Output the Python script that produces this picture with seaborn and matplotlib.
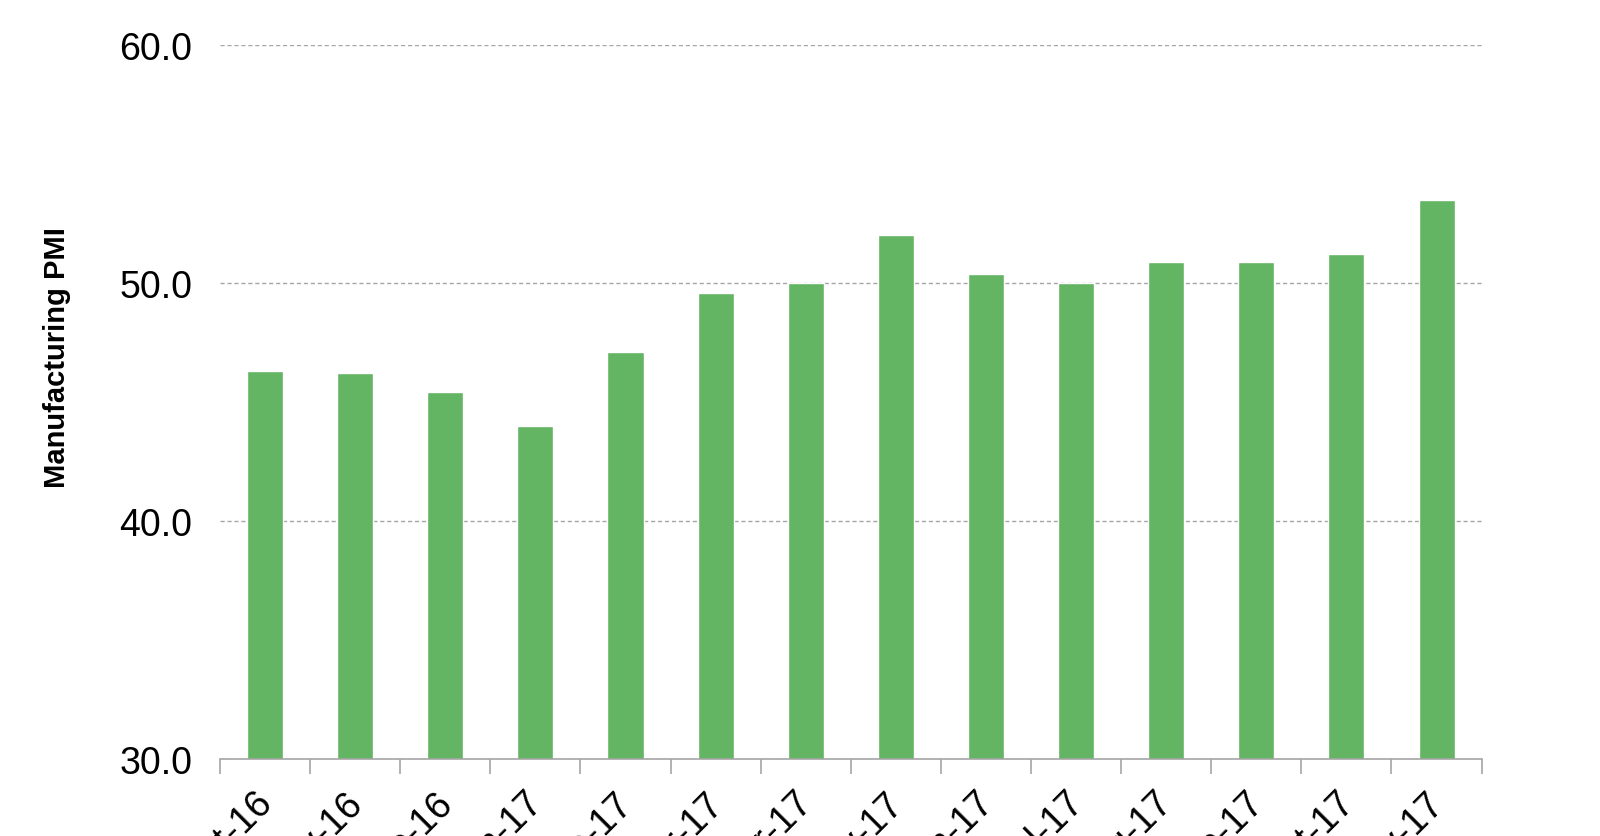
import matplotlib
matplotlib.use("Agg")
import matplotlib.pyplot as plt
import matplotlib.transforms as mtransforms
import seaborn as sns
import pandas as pd
import numpy as np

months = ["Oct-16", "Nov-16", "Dec-16", "Jan-17", "Feb-17", "Mar-17", "Apr-17",
          "May-17", "Jun-17", "Jul-17", "Aug-17", "Sep-17", "Oct-17", "Nov-17"]
pmi = [46.3, 46.2, 45.4, 44.0, 47.1, 49.6, 50.0, 52.0, 50.4, 50.0, 50.9, 50.9, 51.2, 53.5]
y_ticks = [30.0, 40.0, 50.0, 60.0]

sns.set_theme(style="white")
plt.rcParams['font.family'] = ['Liberation Sans', 'DejaVu Sans']

df = pd.DataFrame({"month": months, "pmi": pmi})

fig = plt.figure(figsize=(16, 8.37), dpi=100)
ax = fig.add_axes([0.1375, 0.092, 0.926 - 0.1375, 0.945 - 0.092])

sns.barplot(data=df, x="month", y="pmi", color="#63b463", saturation=1,
            width=0.4, ax=ax, zorder=3)

ax.set_ylim(30, 60)
ax.set_xlim(-0.5, len(months) - 0.5)
ax.set_yticks(y_ticks)
ax.set_yticklabels([f"{v:.1f}" for v in y_ticks], fontsize=27)
ax.yaxis.grid(True, linestyle=(0, (3, 2)), color="#a6a6a6", linewidth=1, zorder=0)
ax.xaxis.grid(False)

for s in ["top", "right", "left"]:
    ax.spines[s].set_visible(False)
ax.spines["bottom"].set_color("#a6a6a6")
ax.spines["bottom"].set_linewidth(1.2)
ax.spines["bottom"].set_zorder(4)

ax.tick_params(axis="y", length=0, pad=20, labelcolor="black")
ax.set_xticks(range(len(months)))
ax.set_xticklabels(months, rotation=45, ha="right", va="top",
                   rotation_mode="anchor", fontsize=27)
ax.tick_params(axis="x", which="major", length=0, pad=18, labelcolor="black")
ax.set_xticks(np.arange(-0.5, len(months), 1.0), minor=True)
ax.tick_params(axis="x", which="minor", length=11, width=1.2, color="#a6a6a6", bottom=True)

offset = mtransforms.ScaledTranslation(-0.11, 0.0, fig.dpi_scale_trans)
for lab in ax.get_xticklabels():
    lab.set_transform(lab.get_transform() + offset)

ax.set_xlabel("")
ax.set_ylabel("Manufacturing PMI", fontsize=21, fontweight="bold", color="black")
ax.yaxis.set_label_coords(-0.118, 0.563)

fig.savefig("out.png", dpi=100, facecolor="white")
